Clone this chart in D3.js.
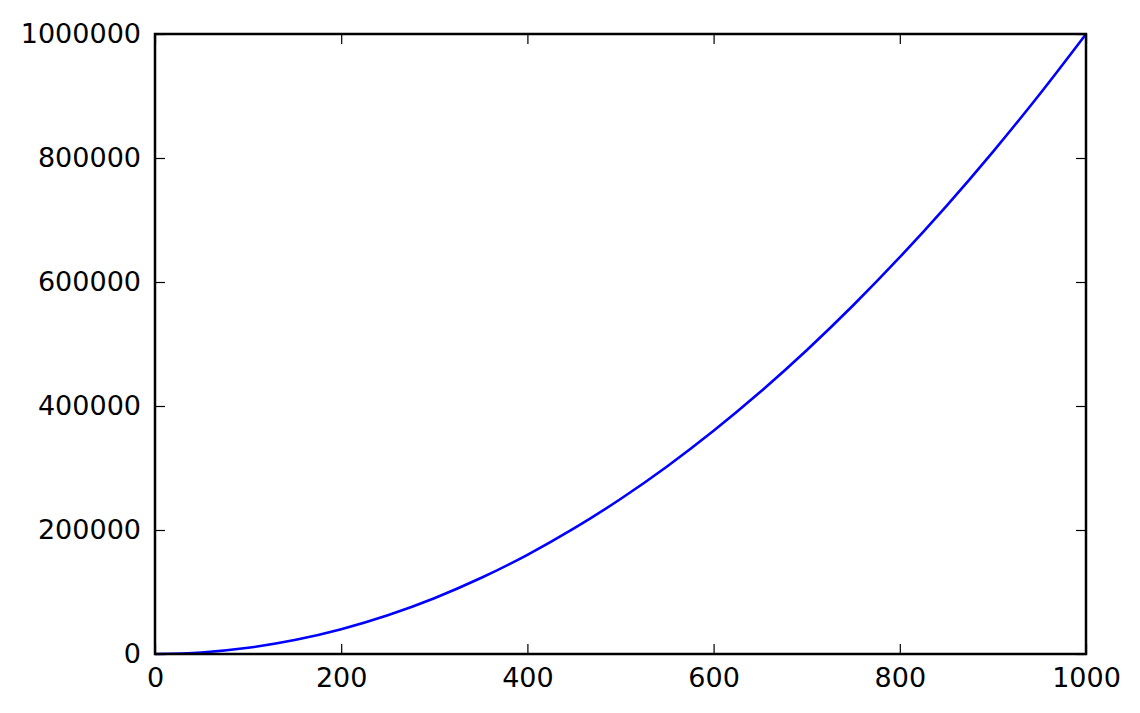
<!DOCTYPE html>
<html>
<head>
<meta charset="utf-8">
<script src="https://cdn.jsdelivr.net/npm/d3@7"></script>
<style>
  body { margin: 0; background: #fff; }
</style>
</head>
<body>
<svg id="chart"></svg>
<script>
// values
var xValues = [0, 50, 100, 150, 200, 250, 300, 350, 400, 450, 500, 550, 600, 650, 700, 750, 800, 850, 900, 950, 1000];
var yValues = [0, 2500, 10000, 22500, 40000, 62500, 90000, 122500, 160000, 202500, 250000, 302500, 360000, 422500, 490000, 562500, 640000, 722500, 810000, 902500, 1000000];
var xTicks = [0, 200, 400, 600, 800, 1000];
var yTicks = [0, 200000, 400000, 600000, 800000, 1000000];

var w = 1140, h = 713;
var margin = {top: 34, right: 54, bottom: 59, left: 155};
var fontSize = 27;

var svg = d3.select('#chart')
    .attr('width', w)
    .attr('height', h)
    .attr('font-family', 'DejaVu Sans')
    .attr('font-size', fontSize);

var x = d3.scaleLinear().domain([0, 1000]).range([margin.left, w - margin.right]);
var y = d3.scaleLinear().domain([0, 1000000]).range([h - margin.bottom, margin.top]);

var data = xValues.map(function(d, i) { return [d, yValues[i]]; });

var line = d3.line()
    .x(function(d) { return x(d[0]); })
    .y(function(d) { return y(d[1]); })
    .curve(d3.curveMonotoneX);

svg.append('path')
    .datum(data)
    .attr('fill', 'none')
    .attr('stroke', '#0000ff')
    .attr('stroke-width', 2.6)
    .attr('d', line);

// ticks inside, all four sides (matplotlib classic)
var tickLen = 10;
function styleAxis(g) {
  g.select('.domain').remove();
  g.selectAll('.tick line').attr('stroke', '#000').attr('stroke-width', 1.2);
  g.selectAll('.tick text').attr('fill', '#000').attr('font-family', 'DejaVu Sans').attr('font-size', fontSize);
}

svg.append('g')
    .attr('transform', 'translate(0,' + (h - margin.bottom) + ')')
    .call(d3.axisBottom(x).tickValues(xTicks).tickFormat(d3.format('d')).tickSizeInner(-tickLen).tickSizeOuter(0).tickPadding(14))
    .call(styleAxis);

svg.append('g')
    .attr('transform', 'translate(0,' + margin.top + ')')
    .call(d3.axisTop(x).tickValues(xTicks).tickFormat('').tickSizeInner(-tickLen).tickSizeOuter(0))
    .call(styleAxis);

svg.append('g')
    .attr('transform', 'translate(' + margin.left + ',0)')
    .call(d3.axisLeft(y).tickValues(yTicks).tickFormat(d3.format('d')).tickSizeInner(-tickLen).tickSizeOuter(0).tickPadding(14))
    .call(styleAxis);

svg.append('g')
    .attr('transform', 'translate(' + (w - margin.right) + ',0)')
    .call(d3.axisRight(y).tickValues(yTicks).tickFormat('').tickSizeInner(-tickLen).tickSizeOuter(0))
    .call(styleAxis);

// frame
svg.append('rect')
    .attr('x', margin.left)
    .attr('y', margin.top)
    .attr('width', w - margin.left - margin.right)
    .attr('height', h - margin.top - margin.bottom)
    .attr('fill', 'none')
    .attr('stroke', '#000')
    .attr('stroke-width', 2.5);
</script>
</body>
</html>
